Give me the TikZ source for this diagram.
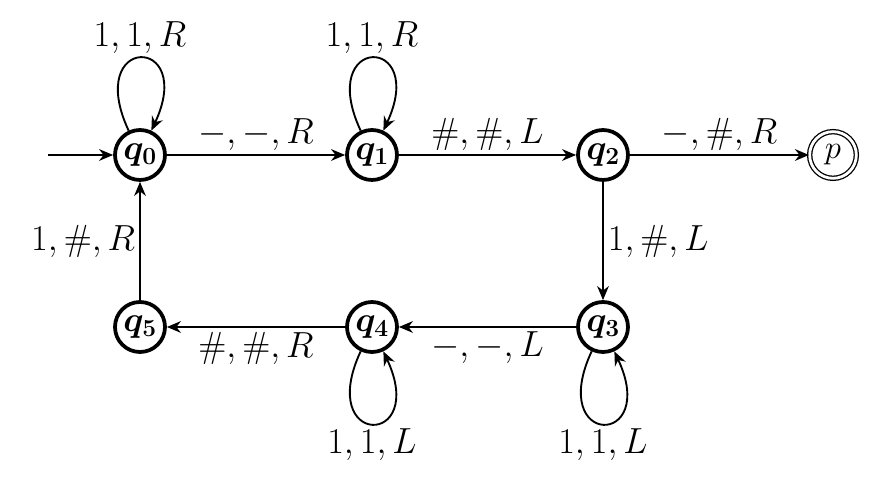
\documentclass[tikz,border=0pt]{standalone}
\usepackage{fix-cm}
\usepackage{amssymb}
\usepackage{amsmath}
\usepackage{bm}
\usetikzlibrary{positioning,arrows.meta}

\tikzset{
    state/.style={circle, draw, line width=3.2pt, minimum size=1.5cm, inner sep=0pt, font=\fontsize{30}{34}\selectfont},
    accept/.style={circle, draw, double, double distance=2.4pt, line width=1.1pt, minimum size=1.4cm, inner sep=0pt, font=\fontsize{28}{32}\selectfont},
    edge/.style={-{Stealth[length=12pt,width=10pt]}, line width=1.6pt},
    lbl/.style={font=\fontsize{31}{35}\selectfont},
    selfloop/.style={edge, looseness=9, min distance=3.2cm}
}

\begin{document}
\begin{tikzpicture}[]
    \useasboundingbox (0,0) rectangle (26.49,14.76);
    \node[state] (q0) at (4.2,10.11) {$\bm{q_0}$};
    \node[state] (q1) at (11.16,10.11) {$\bm{q_1}$};
    \node[state] (q2) at (18.09,10.11) {$\bm{q_2}$};
    \node[accept] (p) at (24.99,10.11) {$p$};
    \node[state] (q3) at (18.09,4.95) {$\bm{q_3}$};
    \node[state] (q4) at (11.16,4.95) {$\bm{q_4}$};
    \node[state] (q5) at (4.2,4.95) {$\bm{q_5}$};
    \coordinate (start) at (1.44,10.11);

\draw[edge] (start) -- (q0);
\draw[edge] (q0) -- node[lbl, above] {$-,-,R$} (q1);
\draw[edge] (q1) -- node[lbl, above] {$\#,\#,L$} (q2);
\draw[edge] (q2) -- node[lbl, above] {$-,\#,R$} (p);
\draw[edge] (q2) -- node[lbl, right] {$1,\#,L$} (q3);
\draw[edge] (q3) -- node[lbl, below] {$-,-,L$} (q4);
\draw[edge] (q4) -- node[lbl, below] {$\#,\#,R$} (q5);
\draw[edge] (q5) -- node[lbl, left] {$1,\#,R$} (q0);

\draw[selfloop] (q0) to[out=115, in=65] node[lbl, above] {$1,1,R$} (q0);
\draw[selfloop] (q1) to[out=115, in=65] node[lbl, above] {$1,1,R$} (q1);
\draw[selfloop] (q4) to[out=-115, in=-65] node[lbl, below] {$1,1,L$} (q4);
\draw[selfloop] (q3) to[out=-115, in=-65] node[lbl, below] {$1,1,L$} (q3);

\end{tikzpicture}
\end{document}
